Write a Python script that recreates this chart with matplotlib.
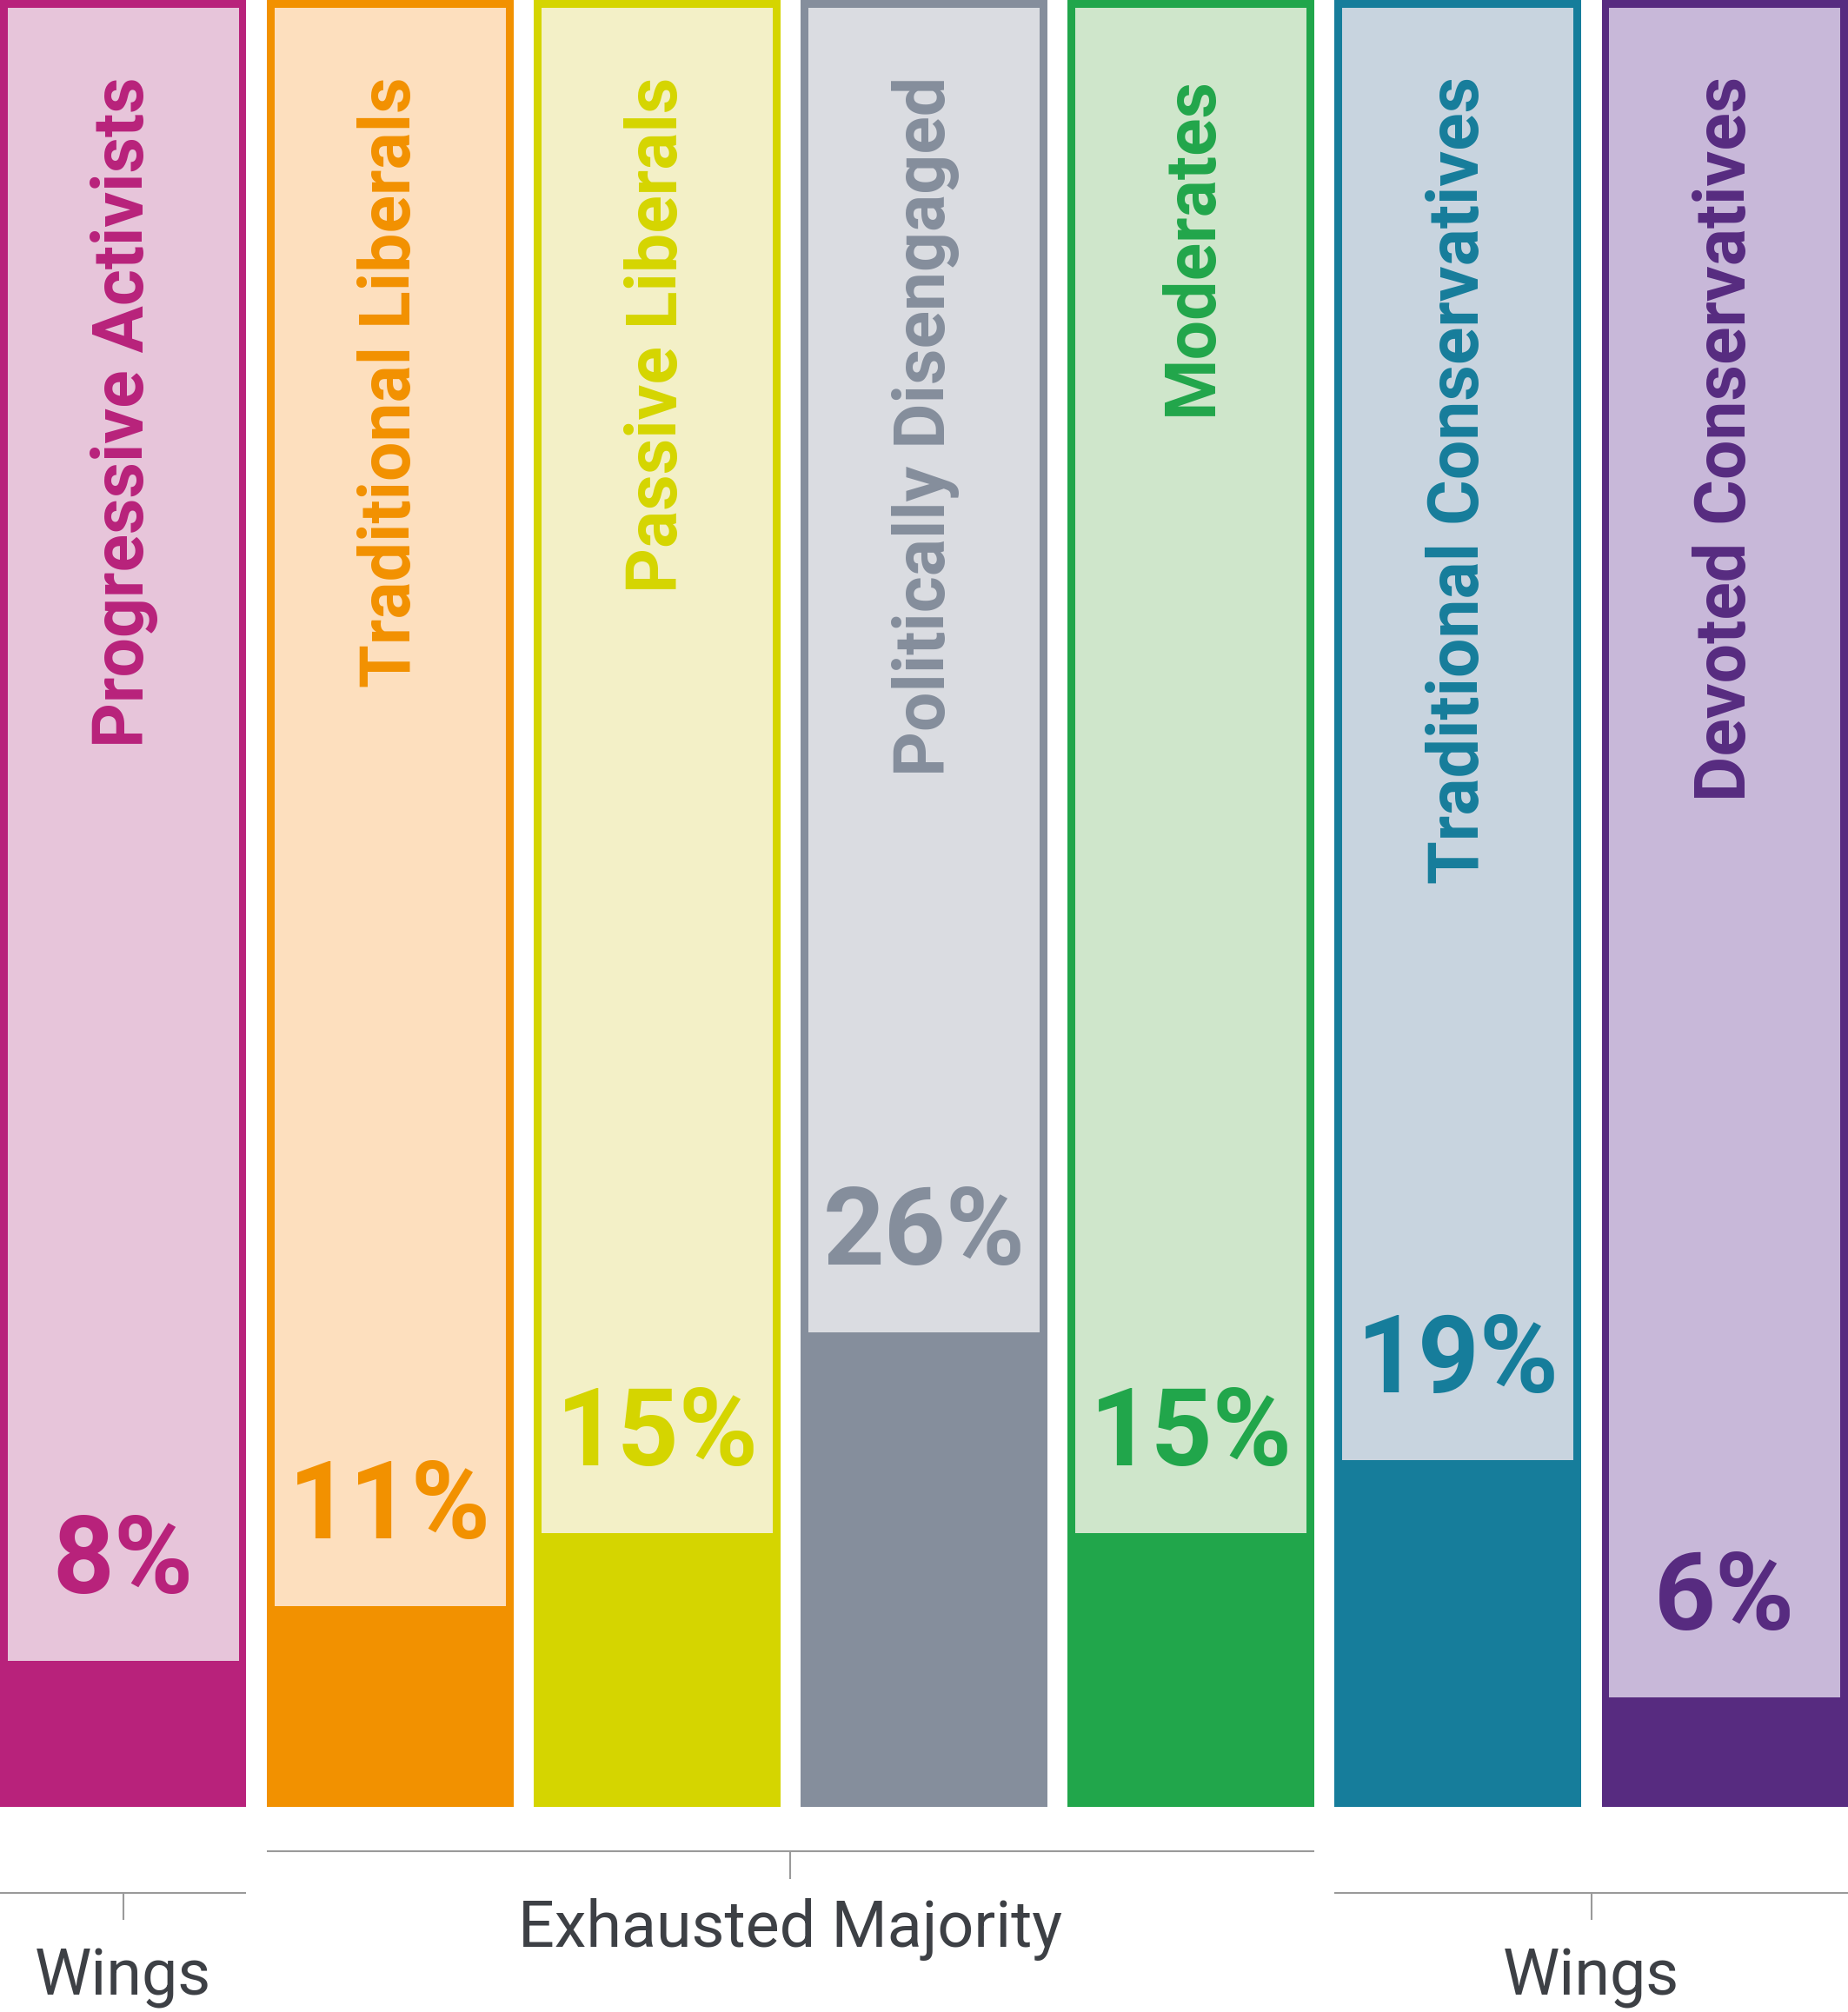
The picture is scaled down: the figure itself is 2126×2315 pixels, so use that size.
import numpy as np
import matplotlib.pyplot as plt

# segments, left to right
segments = ['Progressive Activists', 'Traditional Liberals', 'Passive Liberals',
            'Politically Disengaged', 'Moderates', 'Traditional Conservatives',
            'Devoted Conservatives']
shares = [8, 11, 15, 26, 15, 19, 6]
dark = ['#B8227B', '#F29100', '#D5D500', '#858E9C', '#21A64B', '#167D9B', '#572B80']
light = ['#E7C5DA', '#FDDFBE', '#F3F0C7', '#DADCE1', '#CFE6CB', '#C8D4DF', '#C8B8D9']

# groups under the bars: (first column, last column, label)
groups = [(0, 0, 'Wings'), (1, 4, 'Exhausted Majority'), (5, 6, 'Wings')]

W, H = 2126, 2315
fig = plt.figure(figsize=(W / 100, H / 100), dpi=100)
bar_frac = 1408 / 1568
ax = fig.add_axes([0, 1 - bar_frac, 1, bar_frac])
ax.axis('off')

top = 99
width = 0.923
ins_x = 0.029
ins_y = 0.42
x = np.arange(len(segments))
ax.set_xlim(-width / 2, len(segments) - 1 + width / 2)
ax.set_ylim(0, top)

# outer frame (solid colour), then light inner panel above the share
ax.bar(x, top, width=width, color=dark, linewidth=0)
ax.bar(x, [top - ins_y - s for s in shares], bottom=shares,
       width=width - 2 * ins_x, color=light, linewidth=0)

for i, (name, s) in enumerate(zip(segments, shares)):
    ax.text(i, s + 3.7, f'{s}%', ha='center', va='baseline', color=dark[i],
            fontsize=89, fontweight='bold', family='Roboto')
    ax.text(i + 0.005, top - 4.2, name, rotation=90, ha='center', va='top',
            color=dark[i], fontsize=58, fontweight='bold', family='Roboto')

# brackets and group labels
line_c = '#9a9a9a'
txt_c = '#3d4045'
for a, b, lab in groups:
    x0, x1 = a - width / 2, b + width / 2
    xm = (a + b) / 2
    if lab == 'Exhausted Majority':
        yl, yt = -2.46, -7.67
    else:
        yl, yt = -4.71, -10.3
    ax.plot([x0, x1], [yl, yl], color=line_c, lw=1.5, clip_on=False,
            solid_capstyle='butt')
    ax.plot([xm, xm], [yl, yl - 1.5], color=line_c, lw=1.5, clip_on=False,
            solid_capstyle='butt')
    ax.text(xm, yt, lab, ha='center', va='baseline', color=txt_c,
            fontsize=53, fontweight='normal', family='Roboto')

fig.savefig('out.png', dpi=100, facecolor='white')
